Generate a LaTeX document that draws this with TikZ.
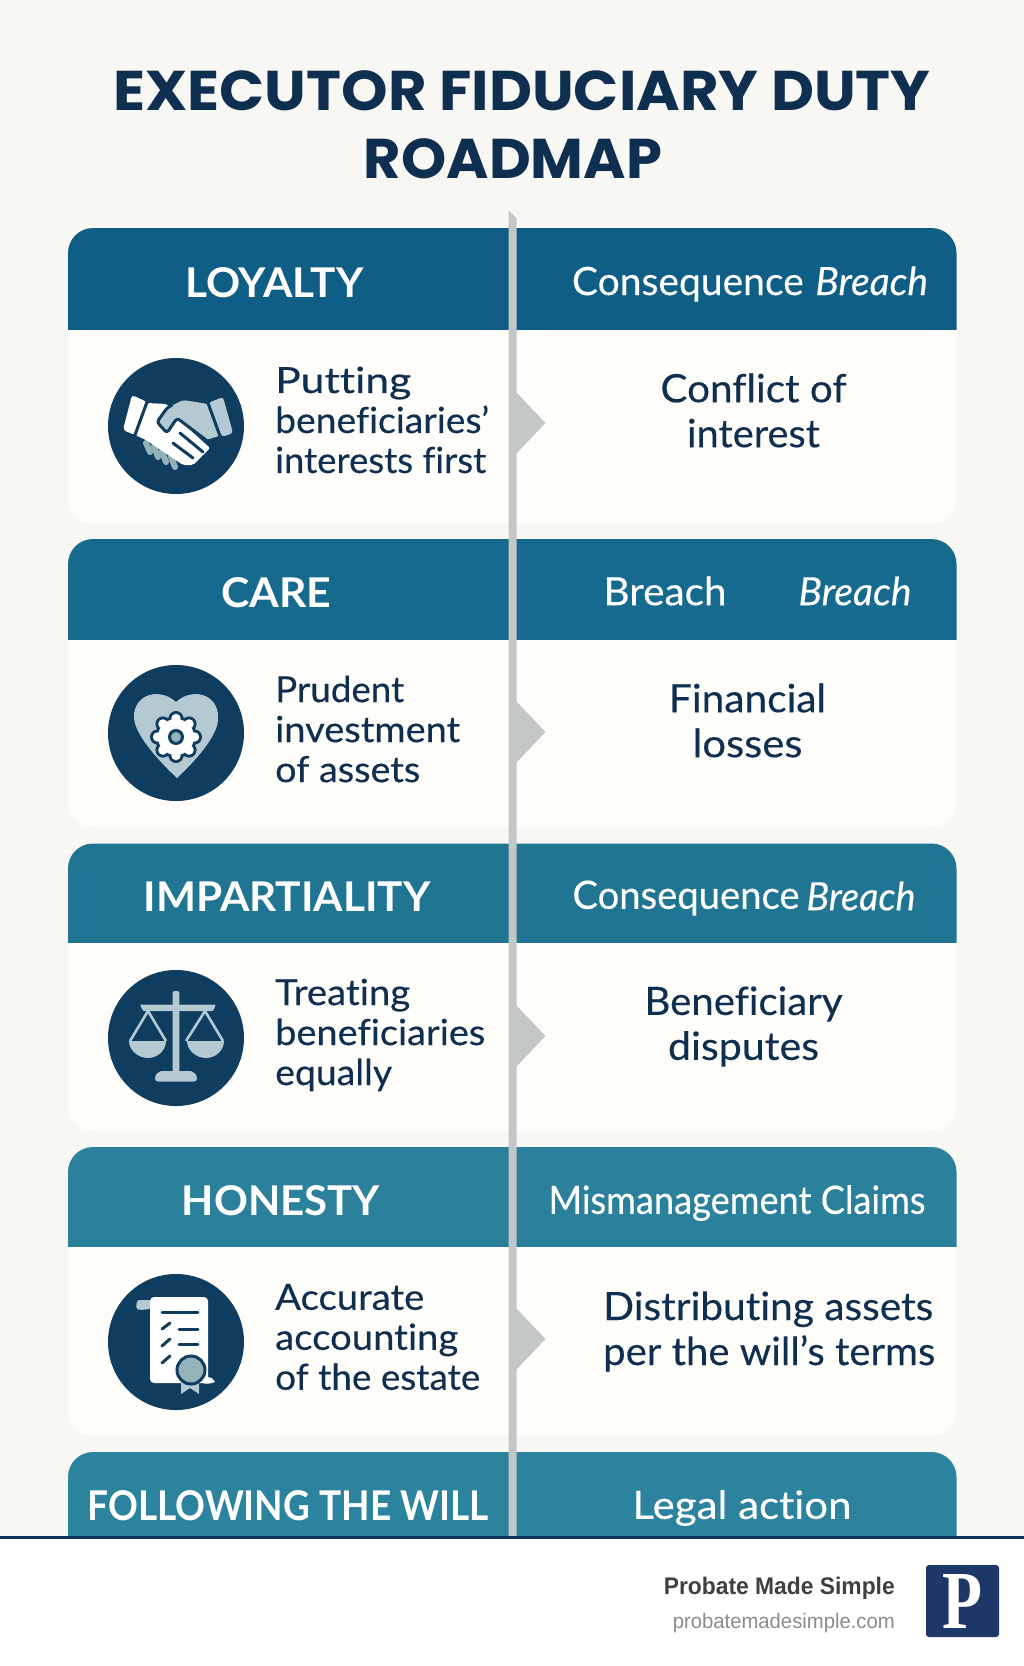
\documentclass[tikz,border=0pt]{standalone}
\usepackage{fontspec}
\usepackage{graphicx}
\setmainfont[Ligatures=NoCommon]{Lato}
\newfontfamily\titlef[BoldFont=Poppins Bold]{Poppins}
\newfontfamily\footf{Liberation Sans}
\newfontfamily\logof{Liberation Serif}
\newfontfamily\bodyf[FakeBold=0.25,Ligatures=NoCommon]{Lato}
\definecolor{pagebg}{HTML}{F9F7F3}
\definecolor{cardbg}{HTML}{FEFDFA}
\definecolor{navy}{HTML}{0E2F50}
\definecolor{iconbg}{HTML}{0E3D60}
\definecolor{iconlt}{HTML}{B4C9D1}
\definecolor{iconmid}{HTML}{93B2B9}
\definecolor{spinec}{HTML}{C4C7C7}
\definecolor{hdrA}{HTML}{0F5E86}
\definecolor{hdrB}{HTML}{156A8D}
\definecolor{hdrC}{HTML}{207593}
\definecolor{hdrD}{HTML}{2B819B}
\definecolor{hdrE}{HTML}{2C839D}
\definecolor{logoc}{HTML}{1C3768}
\newcommand{\fitx}[2]{\resizebox{#1pt}{\height}{#2}}
\newcommand{\cardback}[5]{%
  \fill[cardbg,rounded corners=25pt] (68,#1) rectangle (956.5,#3);
  \begin{scope}
    \clip (0,#1) rectangle (1024,#2);
    \fill[#4,rounded corners=25pt] (68,#1) rectangle (956.5,#3);
  \end{scope}%
}
\tikzset{
  x=1pt,y=-1pt,
  hdrtext/.style={text=white,inner sep=0pt,font=\bodyf\fontsize{39}{44}\selectfont},
  hdrbold/.style={text=white,inner sep=0pt,font=\bfseries\fontsize{41}{46}\selectfont},
  bodyleft/.style={text=navy,inner sep=0pt,align=left,anchor=west,font=\bodyf\fontsize{36}{40}\selectfont},
  bodyright/.style={text=navy,inner sep=0pt,align=center,font=\bodyf\fontsize{39}{45}\selectfont},
  titletext/.style={text=navy,inner sep=0pt,align=center,font=\titlef\bfseries\fontsize{56}{68}\selectfont},
  iconcircle/.style={fill=iconbg,draw=none},
  darkline/.style={draw=iconbg,line width=3pt,line cap=round,line join=round},
}
\begin{document}
\begin{tikzpicture}
\useasboundingbox (0,0) rectangle (1024,1666);
\fill[pagebg] (0,0) rectangle (1024,1666);

\node[titletext] (title) at (522,125) {\fitx{817}{EXECUTOR FIDUCIARY DUTY}\\\hspace*{-18pt}\fitx{298}{ROADMAP}};

\cardback{228}{329.5}{524}{hdrA}{}
\cardback{539}{639}{827}{hdrB}{}
\cardback{843.5}{942}{1131}{hdrC}{}
\cardback{1147}{1246}{1436}{hdrD}{}
\cardback{1452}{1560}{1660}{hdrE}{}

% spine and arrows
\fill[spinec] (508.5,210) -- (516.5,218) -- (516.5,1537) -- (508.5,1537) -- cycle;
\foreach \ay in {423,732,1036,1339}{
  \fill[spinec] (516,\ay-31) -- (545.5,\ay) -- (516,\ay+31) -- cycle;
}

% header text
\node[hdrbold] (h1) at (274.5,283) {\fitx{178}{LOYALTY}};
\node[hdrtext] (r1) at (750,284) {\fitx{356}{Consequence\hspace{0.3em}\textit{Breach}}};
\node[hdrbold] (h2) at (276.5,593) {\fitx{110}{CARE}};
\node[hdrtext] (r2a) at (665,591) {\fitx{123}{Breach}};
\node[hdrtext] (r2b) at (855,591) {\fitx{113}{\textit{Breach}}};
\node[hdrbold] (h3) at (287,897) {\fitx{287}{IMPARTIALITY}};
\node[hdrtext] (r3a) at (686,898) {\fitx{227}{Consequence}};
\node[hdrtext] (r3b) at (861,896) {\fitx{109}{\textit{Breach}}};
\node[hdrbold] (h4) at (281,1201) {\fitx{198}{HONESTY}};
\node[hdrtext] (r4) at (737,1203) {\fitx{377}{Mismanagement Claims}};
\node[hdrbold] (h5) at (288,1506) {\fitx{401}{FOLLOWING THE WILL}};
\node[hdrtext] (r5) at (742,1508) {\fitx{219}{Legal action}};

% body text
\node[bodyleft] (b1) at (275,420) {\fitx{136}{Putting}\\\fitx{214}{beneficiaries’}\\\fitx{211}{interests first}};
\node[bodyleft] (b2) at (275,729) {\fitx{129}{Prudent}\\\fitx{185}{investment}\\\fitx{145}{of assets}};
\node[bodyleft] (b3) at (275,1035) {\fitx{135}{Treating}\\\fitx{210}{beneficiaries}\\\fitx{117}{equally}};
\node[bodyleft] (b4) at (275,1337) {\fitx{149}{Accurate}\\\fitx{183}{accounting}\\\fitx{205}{of the estate}};

\node[bodyright] (c1) at (753.5,410.5) {\fitx{186}{Conflict of}\\\fitx{133}{interest}};
\node[bodyright] (c2) at (747.5,720.5) {\fitx{157}{Financial}\\\fitx{110}{losses}};
\node[bodyright] (c3) at (743.5,1026.5) {\fitx{198}{Beneficiary}\\\fitx{151}{disputes}};
\node[bodyright,align=left,anchor=west] (c4) at (603,1331.5) {\fitx{330}{Distributing assets}\\\fitx{332}{per the will’s terms}};

% icon circles
\node[iconcircle,circle,minimum size=136pt,inner sep=0pt] (i1) at (176,426) {};
\node[iconcircle,circle,minimum size=136pt,inner sep=0pt] (i2) at (176,733) {};
\node[iconcircle,circle,minimum size=136pt,inner sep=0pt] (i3) at (176,1038) {};
\node[iconcircle,circle,minimum size=136pt,inner sep=0pt] (i4) at (176,1342) {};

% handshake
\begin{scope}[shift={(176,426)}]
  \foreach \a/\b/\c/\d in {-30/17/-26/26,-22/20/-18/31,-14/25/-10/36,-5/31/-1/41}{
    \draw[iconmid,line width=6pt,line cap=round] (\a,\b) -- (\c,\d);
  }
  \fill[white,rounded corners=2pt] (-29,-23) -- (-9,-22) -- (1,-8) -- (34,22) -- (17,39) -- (7,39) -- (-30,14) -- (-41,9) -- cycle;
  \fill[iconlt,rounded corners=3pt] (32,-22) -- (7,-26) -- (-9,-18) -- (-19,-4) -- (-9,7) -- (1,-8) -- (30,14) -- (46,9) -- cycle;
  \draw[darkline,rounded corners=3pt] (-4,-21) -- (-9,-18) -- (-19,-4) -- (-9,7) -- (1,-8) -- (30,14);
  \fill[iconlt,rounded corners=3pt] (32,-23) -- (47,-29) -- (57,7) -- (46,11) -- cycle;
  \fill[white,rounded corners=3pt] (-44,-31) -- (-29,-24) -- (-41,9) -- (-53,4) -- cycle;
  \draw[darkline] (-29,-24) -- (-41,9);
  \draw[darkline] (32,-23) -- (44,10);
  \draw[darkline] (4,7) -- (27,26);
  \draw[darkline] (-3,17) -- (17,32);
\end{scope}

% heart and gear
\begin{scope}[shift={(176,733)}]
  \fill[iconlt] (0,-31) .. controls (-8,-38) and (-15,-39) .. (-21,-39)
    .. controls (-35,-38) and (-43,-27) .. (-42,-15)
    .. controls (-41,3) and (-14,31) .. (1,45)
    .. controls (16,31) and (43,3) .. (42,-15)
    .. controls (43,-27) and (35,-38) .. (21,-39)
    .. controls (15,-39) and (8,-38) .. (0,-31) -- cycle;
  \fill[iconbg] (0,4) circle[radius=21];
  \foreach \t in {0,45,...,315}{\fill[iconbg] ({18.5*cos(\t)},{4+18.5*sin(\t)}) circle[radius=7.5];}
  \fill[white] (0,4) circle[radius=18];
  \foreach \t in {0,45,...,315}{\fill[white] ({18.5*cos(\t)},{4+18.5*sin(\t)}) circle[radius=4.7];}
  \draw[fill=iconmid,draw=iconbg,line width=3pt] (0,4) circle[radius=6.5];
\end{scope}

% scales
\begin{scope}[shift={(176,1038)}]
  \fill[iconlt,rounded corners=2pt] (-3.3,-47) -- (3.3,-47) -- (3.3,36) -- (-3.3,36) -- cycle;
  \fill[iconlt,rounded corners=1pt] (-36,-33.5) -- (40,-33.5) -- (37,-27) -- (-33,-27) -- cycle;
  \fill[iconlt,rounded corners=3pt] (-21,43.5) -- (21,43.5) -- (21,38) .. controls (18,34) and (14,33) .. (12,33) -- (-12,33) .. controls (-14,33) and (-18,34) .. (-21,38) -- cycle;
  \draw[iconlt,line width=2.6pt,line join=round] (-46,3) -- (-28,-27) -- (-10,3);
  \draw[iconlt,line width=2.6pt,line join=round] (10,3) -- (29,-27) -- (47,3);
  \fill[iconlt] (-47,3) -- (-10,3) .. controls (-10,12) and (-18,20) .. (-28,20) .. controls (-38,20) and (-47,12) .. (-47,3) -- cycle;
  \fill[iconlt] (11,3) -- (48,3) .. controls (48,12) and (40,20) .. (30,20) .. controls (20,20) and (11,12) .. (11,3) -- cycle;
\end{scope}

% document
\begin{scope}[shift={(176,1342)}]
  \fill[iconlt,rounded corners=2pt] (-25,-42) -- (-39,-42) -- (-40,-33) -- (-36,-32) -- (-25,-33) -- cycle;
  \fill[white] (26,40) .. controls (30,33) and (36,34) .. (39,40) .. controls (34,42) and (30,42) .. (26,41) -- cycle;
  \fill[white,rounded corners=4pt] (-26,-45) -- (32,-45) -- (32,41) -- (-26,41) -- cycle;
  \draw[darkline] (-14,-30) -- (22,-30);
  \draw[darkline] (3,-13) -- (22,-13);
  \draw[darkline] (3,2) -- (22,2);
  \draw[darkline] (-14,-13) -- (-6,-19);
  \draw[darkline] (-14,4) -- (-6,-3);
  \draw[darkline] (-14,21) -- (-6,14);
  \fill[iconlt] (5,40) -- (5,52) -- (14,46) -- (23,52) -- (23,40) -- cycle;
  \draw[fill=iconmid,draw=iconbg,line width=3pt] (15,28) circle[radius=14];
\end{scope}

% footer
\fill[white] (0,1537) rectangle (1024,1666);
\fill[navy!70!logoc] (0,1535.5) rectangle (1024,1538.5);
\node[text=black!75,inner sep=0pt,anchor=east,font=\footf\bfseries\fontsize{24}{28}\selectfont] (brand) at (895,1588) {\fitx{231}{Probate Made Simple}};
\node[text=black!45,inner sep=0pt,anchor=east,font=\footf\fontsize{21}{25}\selectfont] (site) at (895,1623) {\fitx{222}{probatemadesimple.com}};
\node[fill=logoc,rounded corners=3pt,minimum width=73pt,minimum height=72pt,inner sep=0pt,text=white,font=\logof\bfseries\fontsize{60}{60}\selectfont] (logo) at (962.5,1601) {\resizebox{40pt}{54pt}{P}};
\end{tikzpicture}
\end{document}
